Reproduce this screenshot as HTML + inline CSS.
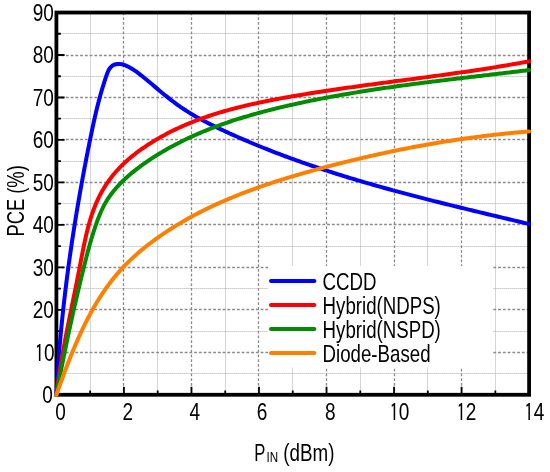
<!DOCTYPE html><html><head><meta charset="utf-8"><style>html,body{margin:0;padding:0;background:#fff}svg{display:block}text{font-family:"Liberation Sans",Arial,sans-serif;fill:#000}</style></head><body>
<svg width="550" height="472" viewBox="0 0 550 472">
<rect width="550" height="472" fill="#fff"/>
<path d="M90.5,12.54V394.77M157.5,12.54V394.77M225.5,12.54V394.77M292.5,12.54V394.77M360.5,12.54V394.77M427.5,12.54V394.77M495.5,12.54V394.77M56.40,373.5H529.11M56.40,331.5H529.11M56.40,288.5H529.11M56.40,246.5H529.11M56.40,203.5H529.11M56.40,161.5H529.11M56.40,118.5H529.11M56.40,76.5H529.11M56.40,33.5H529.11" stroke="#ababab" stroke-width="1" stroke-dasharray="1 1" fill="none"/>
<path d="M123.5,12.54V394.77M191.5,12.54V394.77M258.5,12.54V394.77M326.5,12.54V394.77M394.5,12.54V394.77M461.5,12.54V394.77M56.40,352.5H529.11M56.40,309.5H529.11M56.40,267.5H529.11M56.40,224.5H529.11M56.40,182.5H529.11M56.40,139.5H529.11M56.40,97.5H529.11M56.40,55.5H529.11" stroke="#8a8a8a" stroke-width="1.3" stroke-dasharray="2.8 1.95" fill="none"/>
<path d="M90.16,394.77V390.47M123.93,394.77V386.77M157.69,394.77V390.47M191.46,394.77V386.77M225.22,394.77V390.47M258.99,394.77V386.77M292.75,394.77V390.47M326.52,394.77V386.77M360.28,394.77V390.47M394.05,394.77V386.77M427.81,394.77V390.47M461.58,394.77V386.77M495.34,394.77V390.47M56.40,373.53H60.90M56.40,352.30H64.60M56.40,331.06H60.90M56.40,309.83H64.60M56.40,288.59H60.90M56.40,267.36H64.60M56.40,246.12H60.90M56.40,224.89H64.60M56.40,203.65H60.90M56.40,182.42H64.60M56.40,161.19H60.90M56.40,139.95H64.60M56.40,118.71H60.90M56.40,97.48H64.60M56.40,76.25H60.90M56.40,55.01H64.60M56.40,33.77H60.90" stroke="#000" stroke-width="1.8" fill="none"/>
<rect x="56.40" y="12.54" width="472.71" height="382.23" fill="none" stroke="#000" stroke-width="3.8"/>
<path d="M56.41,394.77 L56.51,392.81 L56.61,390.84 L56.71,388.88 L56.82,386.91 L56.93,384.95 L57.04,382.99 L57.16,381.02 L57.28,379.06 L57.40,377.09 L57.52,375.12 L57.65,373.16 L57.78,371.19 L57.91,369.23 L58.05,367.26 L58.19,365.29 L58.33,363.33 L58.47,361.36 L58.62,359.39 L58.77,357.43 L58.92,355.46 L59.07,353.49 L59.23,351.53 L59.39,349.56 L59.55,347.59 L59.72,345.63 L59.89,343.66 L60.06,341.69 L60.23,339.72 L60.41,337.76 L60.59,335.79 L60.77,333.82 L60.95,331.86 L61.14,329.89 L61.33,327.92 L61.52,325.96 L61.71,323.99 L61.91,322.02 L62.11,320.05 L62.31,318.09 L62.51,316.12 L62.72,314.15 L62.93,312.19 L63.14,310.22 L63.35,308.26 L63.57,306.29 L63.79,304.32 L64.01,302.36 L64.23,300.39 L64.46,298.43 L64.69,296.46 L64.92,294.50 L65.15,292.53 L65.39,290.57 L65.63,288.61 L65.87,286.64 L66.11,284.68 L66.36,282.72 L66.60,280.75 L66.85,278.79 L67.11,276.83 L67.36,274.87 L67.62,272.90 L67.88,270.94 L68.14,268.98 L68.40,267.02 L68.67,265.06 L68.93,263.10 L69.20,261.14 L69.48,259.18 L69.75,257.22 L70.03,255.26 L70.31,253.31 L70.59,251.35 L70.87,249.39 L71.16,247.43 L71.44,245.48 L71.73,243.52 L72.03,241.57 L72.32,239.61 L72.62,237.66 L72.91,235.70 L73.21,233.75 L73.52,231.80 L73.82,229.85 L74.13,227.89 L74.43,225.94 L74.74,223.99 L75.06,222.04 L75.37,220.09 L75.69,218.14 L76.01,216.20 L76.33,214.25 L76.65,212.30 L76.97,210.35 L77.30,208.41 L77.63,206.46 L77.96,204.52 L78.29,202.58 L78.62,200.63 L78.96,198.69 L79.29,196.75 L79.63,194.81 L79.97,192.87 L80.32,190.93 L80.66,188.99 L81.01,187.05 L81.36,185.11 L81.71,183.18 L82.06,181.24 L82.41,179.31 L82.77,177.37 L83.13,175.44 L83.49,173.51 L83.85,171.58 L84.21,169.64 L84.57,167.71 L84.94,165.79 L85.31,163.86 L85.68,161.93 L86.05,160.00 L86.42,158.08 L86.79,156.15 L87.17,154.23 L87.55,152.31 L87.93,150.38 L88.31,148.46 L88.69,146.54 L89.07,144.62 L89.46,142.71 L89.85,140.79 L90.23,138.87 L90.63,136.96 L91.02,135.04 L91.41,133.13 L91.81,131.22 L92.21,129.30 L92.61,127.39 L93.02,125.48 L93.44,123.57 L93.86,121.65 L94.28,119.74 L94.71,117.83 L95.15,115.91 L95.59,114.00 L96.04,112.08 L96.50,110.16 L96.96,108.24 L97.44,106.32 L97.92,104.40 L98.42,102.47 L98.92,100.55 L99.43,98.62 L99.96,96.69 L100.50,94.76 L101.04,92.82 L101.60,90.88 L102.18,88.94 L102.76,86.99 L103.36,85.04 L103.97,83.09 L104.60,81.14 L105.24,79.18 L105.90,77.21 L106.58,75.25 L107.28,73.30 L108.06,71.42 L108.93,69.66 L109.94,68.07 L111.12,66.70 L112.50,65.59 L114.09,64.78 L115.86,64.26 L117.75,64.01 L119.72,64.02 L121.72,64.28 L123.70,64.77 L125.62,65.47 L127.48,66.31 L129.28,67.24 L131.03,68.22 L132.73,69.26 L134.39,70.35 L136.02,71.48 L137.61,72.64 L139.19,73.84 L140.74,75.06 L142.28,76.29 L143.81,77.53 L145.34,78.78 L146.86,80.03 L148.38,81.29 L149.89,82.56 L151.40,83.82 L152.91,85.09 L154.42,86.36 L155.93,87.63 L157.44,88.90 L158.95,90.17 L160.46,91.43 L161.98,92.68 L163.49,93.94 L165.02,95.18 L166.54,96.42 L168.08,97.65 L169.62,98.87 L171.17,100.07 L172.73,101.27 L174.29,102.45 L175.87,103.62 L177.46,104.78 L179.06,105.92 L180.67,107.04 L182.29,108.14 L183.93,109.23 L185.57,110.30 L187.23,111.36 L188.90,112.40 L190.58,113.42 L192.27,114.44 L193.96,115.43 L195.67,116.42 L197.39,117.39 L199.11,118.35 L200.84,119.30 L202.58,120.24 L204.33,121.16 L206.08,122.08 L207.84,122.98 L209.60,123.88 L211.37,124.77 L213.15,125.64 L214.93,126.52 L216.71,127.38 L218.50,128.23 L220.29,129.08 L222.08,129.93 L223.87,130.76 L225.67,131.60 L227.47,132.42 L229.27,133.25 L231.07,134.06 L232.88,134.88 L234.68,135.69 L236.49,136.49 L238.30,137.29 L240.11,138.08 L241.92,138.87 L243.74,139.66 L245.55,140.44 L247.37,141.21 L249.19,141.98 L251.01,142.75 L252.83,143.51 L254.65,144.27 L256.48,145.02 L258.30,145.77 L260.13,146.52 L261.96,147.26 L263.79,147.99 L265.63,148.72 L267.46,149.45 L269.30,150.18 L271.13,150.89 L272.97,151.61 L274.81,152.32 L276.65,153.03 L278.49,153.73 L280.34,154.43 L282.18,155.13 L284.03,155.82 L285.88,156.50 L287.73,157.19 L289.58,157.87 L291.43,158.54 L293.28,159.22 L295.14,159.89 L296.99,160.55 L298.85,161.21 L300.71,161.87 L302.57,162.52 L304.43,163.17 L306.29,163.82 L308.16,164.46 L310.02,165.10 L311.89,165.74 L313.75,166.37 L315.62,167.00 L317.49,167.63 L319.36,168.25 L321.23,168.87 L323.10,169.49 L324.98,170.10 L326.85,170.71 L328.73,171.32 L330.60,171.93 L332.48,172.53 L334.36,173.13 L336.24,173.72 L338.12,174.31 L340.00,174.90 L341.89,175.49 L343.77,176.07 L345.65,176.65 L347.54,177.23 L349.43,177.80 L351.31,178.38 L353.20,178.95 L355.09,179.51 L356.98,180.08 L358.87,180.64 L360.76,181.20 L362.66,181.75 L364.55,182.31 L366.44,182.86 L368.34,183.41 L370.23,183.95 L372.13,184.50 L374.03,185.04 L375.93,185.58 L377.83,186.12 L379.73,186.65 L381.63,187.18 L383.53,187.71 L385.43,188.24 L387.33,188.77 L389.23,189.29 L391.14,189.81 L393.04,190.33 L394.95,190.85 L396.85,191.37 L398.76,191.88 L400.67,192.39 L402.57,192.90 L404.48,193.41 L406.39,193.92 L408.30,194.42 L410.21,194.93 L412.12,195.43 L414.03,195.93 L415.94,196.43 L417.85,196.92 L419.76,197.42 L421.68,197.91 L423.59,198.40 L425.50,198.89 L427.41,199.38 L429.33,199.87 L431.24,200.35 L433.16,200.84 L435.07,201.32 L436.99,201.80 L438.91,202.28 L440.82,202.76 L442.74,203.24 L444.66,203.72 L446.57,204.19 L448.49,204.67 L450.41,205.14 L452.33,205.61 L454.24,206.08 L456.16,206.55 L458.08,207.02 L460.00,207.49 L461.92,207.96 L463.84,208.43 L465.76,208.89 L467.68,209.36 L469.60,209.82 L471.52,210.29 L473.44,210.75 L475.36,211.21 L477.28,211.67 L479.20,212.14 L481.12,212.60 L483.04,213.06 L484.96,213.52 L486.88,213.98 L488.80,214.43 L490.72,214.89 L492.64,215.35 L494.56,215.81 L496.48,216.27 L498.40,216.72 L500.32,217.18 L502.24,217.64 L504.16,218.09 L506.08,218.55 L508.00,219.01 L509.92,219.46 L511.84,219.92 L513.76,220.37 L515.68,220.83 L517.60,221.29 L519.52,221.74 L521.44,222.20 L523.36,222.65 L525.28,223.11 L527.20,223.57 L529.11,224.03" stroke="#0000ff" stroke-width="4" fill="none" stroke-linejoin="round" stroke-linecap="round"/>
<path d="M56.40,394.77 L56.61,393.08 L56.82,391.39 L57.03,389.70 L57.25,388.02 L57.48,386.34 L57.71,384.66 L57.94,382.99 L58.17,381.32 L58.41,379.64 L58.66,377.98 L58.90,376.31 L59.16,374.65 L59.41,372.99 L59.67,371.33 L59.93,369.67 L60.19,368.01 L60.46,366.36 L60.73,364.71 L61.01,363.06 L61.28,361.41 L61.56,359.76 L61.85,358.12 L62.13,356.48 L62.42,354.83 L62.71,353.19 L63.00,351.55 L63.30,349.91 L63.60,348.28 L63.90,346.64 L64.20,345.00 L64.51,343.37 L64.81,341.74 L65.12,340.10 L65.43,338.47 L65.74,336.84 L66.06,335.21 L66.38,333.58 L66.69,331.95 L67.01,330.32 L67.33,328.69 L67.66,327.06 L67.98,325.44 L68.30,323.81 L68.63,322.18 L68.96,320.55 L69.28,318.92 L69.61,317.29 L69.94,315.67 L70.27,314.04 L70.60,312.41 L70.94,310.78 L71.27,309.15 L71.60,307.52 L71.93,305.89 L72.27,304.25 L72.60,302.62 L72.93,300.99 L73.27,299.35 L73.60,297.72 L73.94,296.08 L74.27,294.45 L74.60,292.81 L74.94,291.17 L75.27,289.53 L75.60,287.88 L75.93,286.24 L76.27,284.60 L76.60,282.95 L76.93,281.30 L77.25,279.65 L77.58,278.00 L77.91,276.35 L78.24,274.69 L78.56,273.03 L78.88,271.37 L79.21,269.71 L79.53,268.05 L79.85,266.38 L80.17,264.72 L80.48,263.05 L80.80,261.38 L81.12,259.70 L81.44,258.03 L81.76,256.36 L82.08,254.68 L82.41,253.01 L82.73,251.34 L83.06,249.67 L83.40,247.99 L83.74,246.33 L84.08,244.66 L84.43,242.99 L84.78,241.33 L85.14,239.66 L85.51,238.01 L85.89,236.35 L86.27,234.70 L86.66,233.05 L87.06,231.41 L87.47,229.77 L87.89,228.13 L88.32,226.50 L88.76,224.87 L89.21,223.25 L89.67,221.64 L90.15,220.03 L90.64,218.43 L91.14,216.84 L91.65,215.25 L92.18,213.67 L92.73,212.10 L93.28,210.53 L93.86,208.98 L94.45,207.43 L95.06,205.89 L95.68,204.36 L96.33,202.84 L96.99,201.33 L97.67,199.83 L98.37,198.34 L99.08,196.86 L99.82,195.40 L100.58,193.94 L101.36,192.49 L102.16,191.06 L102.99,189.64 L103.83,188.23 L104.69,186.83 L105.58,185.45 L106.48,184.07 L107.40,182.71 L108.35,181.36 L109.31,180.03 L110.29,178.70 L111.29,177.39 L112.31,176.10 L113.35,174.81 L114.41,173.54 L115.49,172.28 L116.58,171.04 L117.69,169.80 L118.82,168.58 L119.97,167.38 L121.14,166.19 L122.32,165.01 L123.52,163.85 L124.74,162.70 L125.97,161.56 L127.22,160.44 L128.48,159.33 L129.76,158.24 L131.05,157.15 L132.36,156.09 L133.68,155.03 L135.01,153.99 L136.35,152.96 L137.70,151.94 L139.06,150.94 L140.42,149.95 L141.80,148.97 L143.19,148.01 L144.58,147.05 L145.97,146.11 L147.38,145.18 L148.78,144.26 L150.20,143.35 L151.62,142.46 L153.04,141.58 L154.47,140.70 L155.90,139.84 L157.34,138.99 L158.79,138.15 L160.24,137.33 L161.70,136.51 L163.16,135.70 L164.62,134.91 L166.09,134.12 L167.57,133.35 L169.05,132.58 L170.53,131.83 L172.02,131.08 L173.51,130.35 L175.01,129.62 L176.51,128.91 L178.02,128.21 L179.53,127.51 L181.05,126.82 L182.57,126.15 L184.09,125.48 L185.62,124.82 L187.15,124.17 L188.69,123.53 L190.22,122.90 L191.77,122.28 L193.31,121.67 L194.87,121.06 L196.42,120.46 L197.98,119.87 L199.54,119.29 L201.10,118.72 L202.67,118.16 L204.24,117.60 L205.82,117.05 L207.40,116.51 L208.98,115.98 L210.56,115.45 L212.15,114.93 L213.74,114.42 L215.33,113.92 L216.93,113.42 L218.52,112.93 L220.13,112.45 L221.73,111.97 L223.34,111.50 L224.94,111.04 L226.56,110.58 L228.17,110.13 L229.79,109.68 L231.40,109.24 L233.02,108.81 L234.65,108.39 L236.27,107.96 L237.90,107.55 L239.53,107.14 L241.16,106.74 L242.79,106.34 L244.42,105.94 L246.06,105.55 L247.70,105.17 L249.34,104.79 L250.98,104.42 L252.62,104.05 L254.26,103.69 L255.91,103.33 L257.55,102.97 L259.20,102.62 L260.85,102.27 L262.50,101.93 L264.15,101.59 L265.80,101.26 L267.45,100.92 L269.11,100.60 L270.76,100.27 L272.41,99.95 L274.07,99.63 L275.72,99.32 L277.38,99.01 L279.04,98.70 L280.70,98.40 L282.35,98.10 L284.01,97.80 L285.67,97.50 L287.33,97.21 L288.99,96.91 L290.64,96.62 L292.30,96.34 L293.96,96.05 L295.62,95.77 L297.28,95.49 L298.94,95.21 L300.59,94.93 L302.25,94.66 L303.91,94.38 L305.57,94.11 L307.22,93.84 L308.88,93.57 L310.54,93.31 L312.20,93.04 L313.85,92.78 L315.51,92.52 L317.17,92.26 L318.82,92.00 L320.48,91.74 L322.14,91.49 L323.79,91.24 L325.45,90.98 L327.11,90.73 L328.76,90.48 L330.42,90.24 L332.08,89.99 L333.73,89.75 L335.39,89.50 L337.05,89.26 L338.70,89.02 L340.36,88.78 L342.01,88.54 L343.67,88.30 L345.33,88.06 L346.98,87.83 L348.64,87.59 L350.29,87.36 L351.95,87.13 L353.60,86.90 L355.26,86.67 L356.91,86.44 L358.57,86.21 L360.22,85.98 L361.88,85.75 L363.54,85.52 L365.19,85.30 L366.85,85.07 L368.50,84.85 L370.16,84.63 L371.81,84.40 L373.47,84.18 L375.12,83.96 L376.78,83.74 L378.43,83.51 L380.09,83.29 L381.74,83.07 L383.40,82.85 L385.05,82.63 L386.70,82.41 L388.36,82.20 L390.01,81.98 L391.67,81.76 L393.32,81.54 L394.98,81.32 L396.63,81.10 L398.29,80.89 L399.94,80.67 L401.60,80.45 L403.25,80.23 L404.91,80.02 L406.56,79.80 L408.22,79.58 L409.87,79.36 L411.53,79.14 L413.18,78.92 L414.83,78.71 L416.49,78.49 L418.14,78.27 L419.80,78.05 L421.45,77.83 L423.11,77.61 L424.76,77.39 L426.42,77.17 L428.07,76.95 L429.73,76.73 L431.38,76.50 L433.04,76.28 L434.69,76.06 L436.35,75.83 L438.00,75.61 L439.66,75.38 L441.31,75.16 L442.97,74.93 L444.62,74.70 L446.28,74.47 L447.93,74.25 L449.59,74.02 L451.24,73.78 L452.90,73.55 L454.55,73.32 L456.21,73.09 L457.86,72.85 L459.52,72.62 L461.17,72.38 L462.83,72.14 L464.49,71.90 L466.14,71.66 L467.80,71.42 L469.45,71.18 L471.11,70.93 L472.76,70.69 L474.42,70.44 L476.08,70.19 L477.73,69.94 L479.39,69.69 L481.05,69.44 L482.70,69.19 L484.36,68.93 L486.01,68.68 L487.67,68.42 L489.33,68.16 L490.98,67.90 L492.64,67.63 L494.30,67.37 L495.95,67.10 L497.61,66.83 L499.27,66.56 L500.93,66.29 L502.58,66.02 L504.24,65.74 L505.90,65.46 L507.56,65.18 L509.21,64.90 L510.87,64.62 L512.53,64.33 L514.19,64.05 L515.84,63.76 L517.50,63.46 L519.16,63.17 L520.82,62.87 L522.48,62.58 L524.14,62.27 L525.79,61.97 L527.45,61.67 L529.11,61.36" stroke="#ff0000" stroke-width="4" fill="none" stroke-linejoin="round" stroke-linecap="round"/>
<path d="M56.40,394.77 L56.70,393.13 L57.01,391.50 L57.31,389.87 L57.62,388.24 L57.92,386.61 L58.23,384.98 L58.54,383.36 L58.85,381.73 L59.16,380.11 L59.47,378.49 L59.78,376.87 L60.09,375.25 L60.40,373.63 L60.72,372.02 L61.03,370.41 L61.35,368.79 L61.66,367.18 L61.98,365.57 L62.30,363.96 L62.62,362.36 L62.94,360.75 L63.26,359.14 L63.59,357.54 L63.91,355.93 L64.23,354.33 L64.56,352.73 L64.89,351.13 L65.21,349.53 L65.54,347.93 L65.87,346.33 L66.20,344.73 L66.54,343.14 L66.87,341.54 L67.20,339.95 L67.54,338.35 L67.88,336.76 L68.21,335.16 L68.55,333.57 L68.89,331.98 L69.24,330.38 L69.58,328.79 L69.92,327.20 L70.27,325.61 L70.61,324.02 L70.96,322.42 L71.31,320.83 L71.66,319.24 L72.01,317.65 L72.36,316.06 L72.72,314.47 L73.07,312.88 L73.43,311.29 L73.79,309.70 L74.15,308.11 L74.51,306.52 L74.87,304.92 L75.24,303.33 L75.60,301.74 L75.97,300.15 L76.34,298.56 L76.70,296.96 L77.08,295.37 L77.45,293.78 L77.82,292.18 L78.20,290.59 L78.57,288.99 L78.95,287.40 L79.33,285.80 L79.71,284.20 L80.09,282.61 L80.48,281.01 L80.87,279.41 L81.25,277.81 L81.64,276.21 L82.03,274.61 L82.42,273.00 L82.82,271.40 L83.21,269.79 L83.61,268.19 L84.01,266.58 L84.41,264.97 L84.81,263.37 L85.22,261.76 L85.62,260.15 L86.04,258.54 L86.45,256.93 L86.87,255.32 L87.29,253.71 L87.71,252.11 L88.14,250.50 L88.57,248.89 L89.01,247.29 L89.45,245.69 L89.90,244.09 L90.36,242.49 L90.82,240.90 L91.28,239.31 L91.75,237.72 L92.23,236.13 L92.72,234.55 L93.21,232.97 L93.71,231.40 L94.22,229.83 L94.73,228.26 L95.26,226.70 L95.79,225.14 L96.33,223.59 L96.88,222.04 L97.44,220.50 L98.01,218.97 L98.60,217.44 L99.19,215.92 L99.81,214.42 L100.44,212.92 L101.09,211.43 L101.76,209.96 L102.46,208.50 L103.17,207.05 L103.91,205.62 L104.67,204.20 L105.46,202.80 L106.28,201.42 L107.12,200.05 L107.99,198.70 L108.88,197.37 L109.79,196.05 L110.73,194.75 L111.69,193.46 L112.68,192.19 L113.68,190.93 L114.71,189.69 L115.76,188.46 L116.82,187.24 L117.91,186.04 L119.01,184.86 L120.13,183.68 L121.27,182.53 L122.43,181.38 L123.60,180.25 L124.79,179.13 L125.99,178.02 L127.20,176.92 L128.43,175.84 L129.68,174.77 L130.93,173.71 L132.20,172.66 L133.47,171.62 L134.76,170.60 L136.06,169.58 L137.37,168.58 L138.68,167.59 L140.01,166.60 L141.34,165.63 L142.67,164.66 L144.02,163.71 L145.37,162.76 L146.72,161.83 L148.08,160.90 L149.44,159.98 L150.81,159.08 L152.18,158.18 L153.56,157.29 L154.94,156.40 L156.33,155.53 L157.72,154.66 L159.11,153.81 L160.51,152.96 L161.92,152.12 L163.33,151.29 L164.74,150.47 L166.16,149.65 L167.58,148.84 L169.00,148.05 L170.43,147.26 L171.87,146.47 L173.30,145.70 L174.74,144.93 L176.19,144.17 L177.64,143.42 L179.09,142.68 L180.55,141.94 L182.01,141.21 L183.47,140.49 L184.94,139.78 L186.41,139.07 L187.89,138.38 L189.36,137.68 L190.85,137.00 L192.33,136.32 L193.82,135.65 L195.31,134.99 L196.81,134.33 L198.30,133.68 L199.80,133.04 L201.31,132.40 L202.82,131.77 L204.33,131.15 L205.84,130.53 L207.36,129.92 L208.88,129.32 L210.40,128.72 L211.92,128.13 L213.45,127.54 L214.98,126.96 L216.51,126.39 L218.05,125.82 L219.59,125.26 L221.13,124.70 L222.67,124.15 L224.21,123.61 L225.76,123.07 L227.31,122.54 L228.86,122.01 L230.42,121.49 L231.97,120.97 L233.53,120.46 L235.09,119.95 L236.66,119.45 L238.22,118.96 L239.79,118.47 L241.36,117.98 L242.93,117.50 L244.50,117.02 L246.07,116.55 L247.65,116.09 L249.23,115.63 L250.81,115.17 L252.39,114.72 L253.97,114.27 L255.55,113.82 L257.14,113.38 L258.73,112.95 L260.31,112.52 L261.90,112.09 L263.49,111.67 L265.08,111.25 L266.68,110.84 L268.27,110.43 L269.87,110.02 L271.46,109.61 L273.06,109.22 L274.66,108.82 L276.26,108.43 L277.85,108.04 L279.46,107.65 L281.06,107.27 L282.66,106.89 L284.26,106.52 L285.86,106.14 L287.47,105.78 L289.07,105.41 L290.68,105.05 L292.28,104.69 L293.89,104.33 L295.49,103.97 L297.10,103.62 L298.70,103.27 L300.31,102.93 L301.92,102.58 L303.52,102.24 L305.13,101.90 L306.74,101.57 L308.35,101.24 L309.96,100.91 L311.57,100.58 L313.18,100.25 L314.79,99.93 L316.40,99.61 L318.01,99.29 L319.62,98.98 L321.23,98.66 L322.84,98.35 L324.45,98.05 L326.06,97.74 L327.67,97.44 L329.29,97.14 L330.90,96.84 L332.51,96.54 L334.13,96.25 L335.74,95.96 L337.35,95.67 L338.97,95.38 L340.58,95.09 L342.20,94.81 L343.81,94.53 L345.43,94.25 L347.04,93.97 L348.66,93.70 L350.27,93.42 L351.89,93.15 L353.51,92.88 L355.12,92.61 L356.74,92.35 L358.36,92.09 L359.98,91.82 L361.59,91.56 L363.21,91.31 L364.83,91.05 L366.45,90.80 L368.07,90.54 L369.69,90.29 L371.31,90.04 L372.93,89.79 L374.55,89.55 L376.17,89.30 L377.79,89.06 L379.41,88.82 L381.03,88.58 L382.65,88.34 L384.27,88.10 L385.89,87.87 L387.51,87.63 L389.13,87.40 L390.75,87.17 L392.38,86.94 L394.00,86.71 L395.62,86.49 L397.24,86.26 L398.87,86.04 L400.49,85.81 L402.11,85.59 L403.74,85.37 L405.36,85.15 L406.98,84.93 L408.61,84.71 L410.23,84.50 L411.86,84.28 L413.48,84.07 L415.11,83.85 L416.73,83.64 L418.36,83.43 L419.98,83.22 L421.61,83.01 L423.23,82.80 L424.86,82.60 L426.48,82.39 L428.11,82.18 L429.74,81.98 L431.36,81.77 L432.99,81.57 L434.62,81.37 L436.24,81.17 L437.87,80.97 L439.50,80.76 L441.12,80.56 L442.75,80.37 L444.38,80.17 L446.00,79.97 L447.63,79.77 L449.26,79.57 L450.89,79.38 L452.52,79.18 L454.14,78.99 L455.77,78.79 L457.40,78.60 L459.03,78.40 L460.66,78.21 L462.29,78.01 L463.91,77.82 L465.54,77.63 L467.17,77.43 L468.80,77.24 L470.43,77.05 L472.06,76.86 L473.69,76.66 L475.32,76.47 L476.95,76.28 L478.58,76.09 L480.20,75.90 L481.83,75.71 L483.46,75.51 L485.09,75.32 L486.72,75.13 L488.35,74.94 L489.98,74.75 L491.61,74.56 L493.24,74.36 L494.87,74.17 L496.50,73.98 L498.13,73.79 L499.76,73.59 L501.39,73.40 L503.02,73.21 L504.65,73.01 L506.28,72.82 L507.91,72.63 L509.54,72.43 L511.17,72.24 L512.80,72.04 L514.43,71.85 L516.07,71.65 L517.70,71.45 L519.33,71.25 L520.96,71.06 L522.59,70.86 L524.22,70.66 L525.85,70.46 L527.48,70.26 L529.11,70.06" stroke="#008c00" stroke-width="4" fill="none" stroke-linejoin="round" stroke-linecap="round"/>
<path d="M56.40,394.77 L56.88,393.42 L57.36,392.07 L57.84,390.72 L58.33,389.37 L58.81,388.01 L59.30,386.65 L59.79,385.30 L60.28,383.94 L60.77,382.58 L61.26,381.22 L61.76,379.85 L62.25,378.49 L62.75,377.13 L63.25,375.77 L63.76,374.40 L64.27,373.04 L64.77,371.67 L65.29,370.31 L65.80,368.94 L66.32,367.58 L66.84,366.21 L67.36,364.85 L67.89,363.48 L68.41,362.12 L68.95,360.76 L69.48,359.39 L70.02,358.03 L70.56,356.67 L71.11,355.31 L71.65,353.95 L72.21,352.59 L72.76,351.23 L73.32,349.88 L73.88,348.52 L74.45,347.17 L75.02,345.82 L75.60,344.47 L76.18,343.12 L76.76,341.78 L77.35,340.43 L77.94,339.09 L78.54,337.75 L79.14,336.41 L79.74,335.08 L80.35,333.74 L80.97,332.41 L81.59,331.08 L82.21,329.76 L82.84,328.44 L83.48,327.12 L84.12,325.80 L84.76,324.49 L85.41,323.18 L86.07,321.87 L86.73,320.57 L87.40,319.27 L88.07,317.97 L88.75,316.68 L89.43,315.39 L90.12,314.10 L90.82,312.82 L91.52,311.55 L92.23,310.27 L92.94,309.01 L93.66,307.74 L94.39,306.48 L95.12,305.23 L95.86,303.98 L96.61,302.73 L97.36,301.49 L98.12,300.25 L98.89,299.02 L99.66,297.80 L100.44,296.58 L101.23,295.36 L102.02,294.15 L102.83,292.95 L103.64,291.75 L104.45,290.55 L105.27,289.37 L106.11,288.19 L106.94,287.01 L107.79,285.84 L108.65,284.68 L109.51,283.52 L110.38,282.37 L111.25,281.23 L112.14,280.09 L113.03,278.96 L113.94,277.83 L114.85,276.72 L115.77,275.61 L116.69,274.50 L117.63,273.41 L118.57,272.32 L119.53,271.24 L120.49,270.16 L121.46,269.10 L122.44,268.04 L123.43,266.99 L124.43,265.94 L125.43,264.91 L126.44,263.88 L127.47,262.86 L128.50,261.84 L129.53,260.83 L130.58,259.83 L131.63,258.84 L132.69,257.86 L133.76,256.88 L134.83,255.91 L135.91,254.94 L137.00,253.98 L138.09,253.03 L139.19,252.09 L140.30,251.15 L141.41,250.22 L142.53,249.29 L143.65,248.37 L144.78,247.46 L145.91,246.56 L147.05,245.66 L148.20,244.76 L149.35,243.88 L150.50,243.00 L151.66,242.12 L152.83,241.26 L154.00,240.39 L155.17,239.54 L156.34,238.69 L157.52,237.84 L158.71,237.01 L159.89,236.17 L161.09,235.35 L162.28,234.53 L163.48,233.71 L164.68,232.90 L165.89,232.10 L167.09,231.30 L168.31,230.51 L169.52,229.72 L170.74,228.94 L171.96,228.16 L173.19,227.39 L174.42,226.62 L175.65,225.86 L176.89,225.11 L178.13,224.36 L179.37,223.62 L180.62,222.88 L181.86,222.14 L183.12,221.41 L184.37,220.69 L185.63,219.97 L186.89,219.26 L188.15,218.55 L189.42,217.85 L190.69,217.15 L191.96,216.46 L193.24,215.77 L194.52,215.08 L195.80,214.41 L197.08,213.73 L198.37,213.06 L199.66,212.40 L200.95,211.74 L202.25,211.08 L203.55,210.43 L204.85,209.79 L206.15,209.15 L207.46,208.51 L208.76,207.88 L210.07,207.25 L211.39,206.63 L212.70,206.01 L214.02,205.39 L215.34,204.78 L216.66,204.18 L217.99,203.57 L219.32,202.98 L220.65,202.38 L221.98,201.79 L223.31,201.21 L224.65,200.63 L225.99,200.05 L227.33,199.48 L228.67,198.91 L230.01,198.34 L231.36,197.78 L232.71,197.23 L234.06,196.67 L235.41,196.12 L236.76,195.58 L238.12,195.03 L239.48,194.50 L240.84,193.96 L242.20,193.43 L243.56,192.90 L244.93,192.38 L246.29,191.86 L247.66,191.34 L249.03,190.83 L250.40,190.32 L251.78,189.81 L253.15,189.31 L254.53,188.81 L255.90,188.32 L257.28,187.82 L258.66,187.33 L260.05,186.85 L261.43,186.36 L262.81,185.88 L264.20,185.41 L265.59,184.93 L266.97,184.46 L268.36,183.99 L269.76,183.53 L271.15,183.07 L272.54,182.61 L273.93,182.15 L275.33,181.70 L276.73,181.25 L278.12,180.80 L279.52,180.35 L280.92,179.91 L282.32,179.47 L283.72,179.04 L285.12,178.60 L286.52,178.17 L287.93,177.74 L289.33,177.31 L290.74,176.89 L292.14,176.47 L293.55,176.05 L294.95,175.63 L296.36,175.22 L297.77,174.80 L299.18,174.39 L300.59,173.99 L302.00,173.58 L303.41,173.18 L304.82,172.77 L306.23,172.38 L307.64,171.98 L309.05,171.58 L310.46,171.19 L311.87,170.80 L313.29,170.41 L314.70,170.02 L316.11,169.64 L317.52,169.25 L318.94,168.87 L320.35,168.49 L321.76,168.11 L323.18,167.74 L324.59,167.36 L326.00,166.99 L327.42,166.62 L328.83,166.25 L330.24,165.88 L331.66,165.51 L333.07,165.15 L334.48,164.78 L335.89,164.42 L337.31,164.06 L338.72,163.70 L340.13,163.34 L341.55,162.99 L342.96,162.63 L344.37,162.28 L345.78,161.93 L347.20,161.58 L348.61,161.23 L350.02,160.89 L351.44,160.54 L352.85,160.20 L354.26,159.86 L355.68,159.52 L357.09,159.18 L358.50,158.85 L359.91,158.51 L361.33,158.18 L362.74,157.85 L364.16,157.52 L365.57,157.19 L366.98,156.86 L368.40,156.54 L369.81,156.22 L371.23,155.90 L372.64,155.58 L374.05,155.26 L375.47,154.94 L376.88,154.63 L378.30,154.31 L379.71,154.00 L381.13,153.69 L382.55,153.39 L383.96,153.08 L385.38,152.78 L386.79,152.47 L388.21,152.17 L389.63,151.87 L391.04,151.58 L392.46,151.28 L393.88,150.99 L395.30,150.70 L396.71,150.40 L398.13,150.12 L399.55,149.83 L400.97,149.54 L402.39,149.26 L403.81,148.98 L405.23,148.70 L406.65,148.42 L408.07,148.14 L409.49,147.87 L410.91,147.60 L412.33,147.32 L413.75,147.05 L415.17,146.79 L416.59,146.52 L418.02,146.26 L419.44,145.99 L420.86,145.73 L422.29,145.47 L423.71,145.22 L425.13,144.96 L426.56,144.71 L427.98,144.46 L429.41,144.21 L430.84,143.96 L432.26,143.71 L433.69,143.47 L435.12,143.23 L436.54,142.98 L437.97,142.75 L439.40,142.51 L440.83,142.27 L442.26,142.04 L443.69,141.81 L445.12,141.58 L446.55,141.35 L447.98,141.12 L449.41,140.90 L450.84,140.67 L452.28,140.45 L453.71,140.23 L455.14,140.02 L456.58,139.80 L458.01,139.59 L459.45,139.38 L460.89,139.17 L462.32,138.96 L463.76,138.75 L465.20,138.55 L466.64,138.35 L468.07,138.15 L469.51,137.95 L470.95,137.75 L472.39,137.56 L473.84,137.36 L475.28,137.17 L476.72,136.98 L478.16,136.80 L479.61,136.61 L481.05,136.43 L482.50,136.25 L483.94,136.07 L485.39,135.89 L486.84,135.71 L488.28,135.54 L489.73,135.37 L491.18,135.20 L492.63,135.03 L494.08,134.86 L495.53,134.70 L496.98,134.54 L498.44,134.38 L499.89,134.22 L501.34,134.06 L502.80,133.91 L504.25,133.75 L505.71,133.60 L507.17,133.45 L508.63,133.31 L510.08,133.16 L511.54,133.02 L513.00,132.88 L514.46,132.74 L515.93,132.60 L517.39,132.47 L518.85,132.33 L520.32,132.20 L521.78,132.07 L523.25,131.95 L524.71,131.82 L526.18,131.70 L527.65,131.58 L529.12,131.46" stroke="#ff8000" stroke-width="4" fill="none" stroke-linejoin="round" stroke-linecap="round"/>
<rect x="268" y="266" width="225" height="101.5" fill="#fff"/>
<line x1="271" y1="281" x2="314.4" y2="281" stroke="#0000ff" stroke-width="4" stroke-linecap="round"/>
<line x1="271" y1="305" x2="314.4" y2="305" stroke="#ff0000" stroke-width="4" stroke-linecap="round"/>
<line x1="271" y1="329" x2="314.4" y2="329" stroke="#008c00" stroke-width="4" stroke-linecap="round"/>
<line x1="271" y1="353" x2="314.4" y2="353" stroke="#ff8000" stroke-width="4" stroke-linecap="round"/>
<text transform="translate(322.6,289.8) scale(0.785,1)" font-size="23.8">CCDD</text>
<text transform="translate(322.6,313.8) scale(0.785,1)" font-size="23.8">Hybrid(NDPS)</text>
<text transform="translate(322.6,337.8) scale(0.785,1)" font-size="23.8">Hybrid(NSPD)</text>
<text transform="translate(322.6,361.8) scale(0.785,1)" font-size="23.8">Diode-Based</text>
<text transform="translate(52.8,403.07) scale(0.81,1)" font-size="23.5" text-anchor="end">0</text>
<text transform="translate(54.599999999999994,360.60) scale(0.81,1)" font-size="23.5" text-anchor="end"><tspan font-family="IPAGothic, sans-serif" font-size="23" dy="1.1">1</tspan><tspan dy="-1.1">0</tspan></text>
<text transform="translate(53.8,318.13) scale(0.81,1)" font-size="23.5" text-anchor="end">20</text>
<text transform="translate(53.8,275.66) scale(0.81,1)" font-size="23.5" text-anchor="end">30</text>
<text transform="translate(53.8,233.19) scale(0.81,1)" font-size="23.5" text-anchor="end">40</text>
<text transform="translate(53.8,190.72) scale(0.81,1)" font-size="23.5" text-anchor="end">50</text>
<text transform="translate(53.8,148.25) scale(0.81,1)" font-size="23.5" text-anchor="end">60</text>
<text transform="translate(53.8,105.78) scale(0.81,1)" font-size="23.5" text-anchor="end">70</text>
<text transform="translate(53.8,63.31) scale(0.81,1)" font-size="23.5" text-anchor="end">80</text>
<text transform="translate(53.8,20.84) scale(0.81,1)" font-size="23.5" text-anchor="end">90</text>
<text transform="translate(60.50,419.5) scale(0.81,1)" font-size="23.5" text-anchor="middle">0</text>
<text transform="translate(127.70,419.5) scale(0.81,1)" font-size="23.5" text-anchor="middle">2</text>
<text transform="translate(194.90,419.5) scale(0.81,1)" font-size="23.5" text-anchor="middle">4</text>
<text transform="translate(262.00,419.5) scale(0.81,1)" font-size="23.5" text-anchor="middle">6</text>
<text transform="translate(330.40,419.5) scale(0.81,1)" font-size="23.5" text-anchor="middle">8</text>
<text transform="translate(399.50,419.5) scale(0.81,1)" font-size="23.5" text-anchor="middle"><tspan font-family="IPAGothic, sans-serif" font-size="23" dy="1.1">1</tspan><tspan dy="-1.1">0</tspan></text>
<text transform="translate(466.50,419.5) scale(0.81,1)" font-size="23.5" text-anchor="middle"><tspan font-family="IPAGothic, sans-serif" font-size="23" dy="1.1">1</tspan><tspan dy="-1.1">2</tspan></text>
<text transform="translate(534.30,419.5) scale(0.81,1)" font-size="23.5" text-anchor="middle"><tspan font-family="IPAGothic, sans-serif" font-size="23" dy="1.1">1</tspan><tspan dy="-1.1">4</tspan></text>
<text transform="translate(23.6,236.5) rotate(-90) scale(0.78,1)" font-size="23.5">PCE (%)</text>
<text transform="translate(254.2,460.5) scale(0.70,1)" font-size="23.8">P</text>
<text transform="translate(266.6,462) scale(0.8,1)" font-size="14.5">IN</text>
<text transform="translate(283.3,461.3) scale(0.8,1)" font-size="23.5">(dBm)</text>
</svg></body></html>
